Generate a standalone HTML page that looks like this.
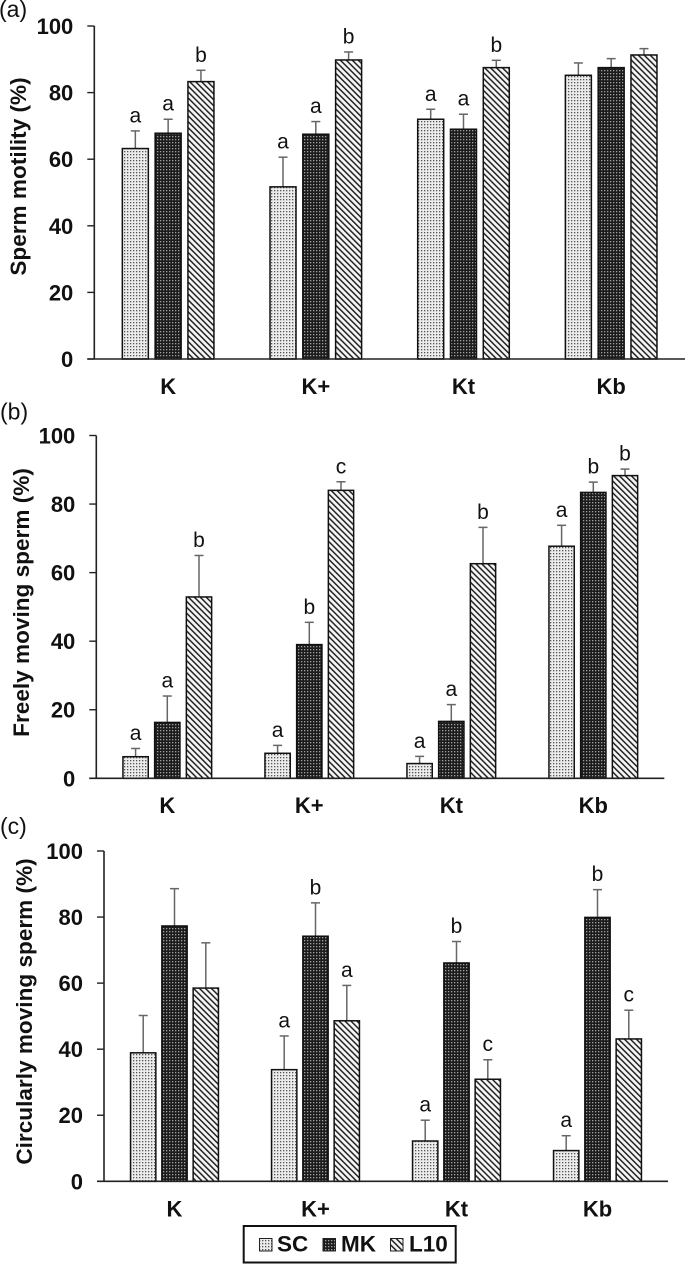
<!DOCTYPE html>
<html lang="en">
<head>
<meta charset="utf-8">
<title>Sperm motility charts</title>
<style>
html,body{margin:0;padding:0;background:#fff;}
svg{display:block;font-family:"Liberation Sans",Arial,sans-serif;}
.tick{font-size:22px;font-weight:bold;fill:#111;text-anchor:end;}
.cat{font-size:22px;font-weight:bold;fill:#111;text-anchor:middle;}
.title{font-size:22.6px;font-weight:bold;fill:#111;text-anchor:middle;}
.sig{font-size:21px;fill:#111;text-anchor:middle;}
.panel{font-size:23px;fill:#111;}
.leg{font-size:22.5px;font-weight:bold;fill:#111;}
</style>
</head>
<body>
<svg id="chart" xmlns="http://www.w3.org/2000/svg" width="685" height="1264" viewBox="0 0 685 1264">
  <defs>
    <pattern id="pat-SC" patternUnits="userSpaceOnUse" width="3" height="3">
      <rect width="3" height="3" fill="#ececec"/>
      <rect x="1" y="1" width="1.3" height="1.3" fill="#555"/>
    </pattern>
    <pattern id="pat-MK" patternUnits="userSpaceOnUse" width="3" height="3">
      <rect width="3" height="3" fill="#1c1c1c"/>
      <rect x="1" y="1" width="1.3" height="1.3" fill="#a0a0a0"/>
    </pattern>
    <pattern id="pat-L10" patternUnits="userSpaceOnUse" width="4.2" height="4.2" patternTransform="rotate(-45)">
      <rect width="4.2" height="4.2" fill="#f6f6f6"/>
      <rect x="0" y="0" width="1.5" height="4.2" fill="#222"/>
    </pattern>
  </defs>

  <text class="panel" x="-1" y="17">(a)</text>
  <text class="panel" x="0" y="419.5">(b)</text>
  <text class="panel" x="0" y="834">(c)</text>

  <text class="title" transform="translate(26,176.5) rotate(-90)">Sperm motility (%)</text>
  <text class="title" transform="translate(29,602.5) rotate(-90)">Freely moving sperm (%)</text>
  <text class="title" transform="translate(32,1011.5) rotate(-90)">Circularly moving sperm (%)</text>

  <g id="panels"></g>

  <g>
    <rect x="243.7" y="1226" width="212" height="36.5" fill="#fff" stroke="#111" stroke-width="2"/>
    <rect x="259.5" y="1238.5" width="12.5" height="12.5" fill="url(#pat-SC)" stroke="#222" stroke-width="1"/>
    <text class="leg" x="277" y="1251.5">SC</text>
    <rect x="323" y="1238.5" width="12.5" height="12.5" fill="url(#pat-MK)" stroke="#222" stroke-width="1"/>
    <text class="leg" x="341" y="1251.5">MK</text>
    <rect x="390.5" y="1238.5" width="12.5" height="12.5" fill="url(#pat-L10)" stroke="#222" stroke-width="1"/>
    <text class="leg" x="409" y="1251.5">L10</text>
  </g>
</svg>

<script>
const categories = ['K', 'K+', 'Kt', 'Kb'];
const tickLabels = [0, 20, 40, 60, 80, 100];
const seriesNames = ['SC', 'MK', 'L10'];

const motilitySC = [63.2, 51.7, 72.0, 85.2];
const motilityMK = [67.8, 67.5, 69.0, 87.5];
const motilityL10 = [83.3, 89.8, 87.5, 91.3];
const motilityErrSC = [5.3, 8.9, 3.0, 3.7];
const motilityErrMK = [4.2, 3.8, 4.5, 2.7];
const motilityErrL10 = [3.4, 2.4, 2.2, 1.9];
const motilityLettersSC = ['a', 'a', 'a', ''];
const motilityLettersMK = ['a', 'a', 'a', ''];
const motilityLettersL10 = ['b', 'b', 'b', ''];

const freelySC = [6.3, 7.3, 4.3, 67.7];
const freelyMK = [16.3, 39.0, 16.6, 83.4];
const freelyL10 = [52.9, 84.0, 62.6, 88.3];
const freelyErrSC = [2.4, 2.3, 2.1, 6.1];
const freelyErrMK = [7.7, 6.5, 4.9, 3.0];
const freelyErrL10 = [12.1, 2.5, 10.6, 1.9];
const freelyLettersSC = ['a', 'a', 'a', 'a'];
const freelyLettersMK = ['a', 'b', 'a', 'b'];
const freelyLettersL10 = ['b', 'c', 'b', 'b'];

const circularSC = [38.9, 33.8, 12.2, 9.3];
const circularMK = [77.3, 74.2, 66.1, 79.9];
const circularL10 = [58.5, 48.6, 30.9, 43.1];
const circularErrSC = [11.3, 10.2, 6.3, 4.5];
const circularErrMK = [11.3, 10.1, 6.5, 8.4];
const circularErrL10 = [13.7, 10.7, 5.9, 8.7];
const circularLettersSC = ['', 'a', 'a', 'a'];
const circularLettersMK = ['', 'b', 'b', 'b'];
const circularLettersL10 = ['', 'a', 'c', 'c'];

const NS = 'http://www.w3.org/2000/svg';
const root = document.getElementById('panels');

function make(parent, tag, attrs, text) {
  const el = document.createElementNS(NS, tag);
  for (const k in attrs) el.setAttribute(k, attrs[k]);
  if (text !== undefined) el.textContent = text;
  parent.appendChild(el);
  return el;
}

function drawPanel(name, frame, values, errors, letters) {
  const g = make(root, 'g', {});
  
  

  const band = (frame.right - frame.left) / categories.length;
  const yScale = function (v) { return frame.y0 - v * (frame.y0 - frame.y100) / 100; };
  const xCenter = function (c) { return frame.left + band * (c + 0.5); };
  const xBar = function (c, s) { return xCenter(c) + (s - 1) * frame.pitch; };

  tickLabels.forEach(function (t) {
    const tick = make(g, 'line', { x1: frame.left - 7, x2: frame.left, y1: yScale(t), y2: yScale(t), stroke: '#222', 'stroke-width': 1.4 });
    
    
    const label = make(g, 'text', { class: 'tick', x: frame.left - 21, y: yScale(t) + 8 }, String(t));
    
    
  });

  categories.forEach(function (cat, c) {
    seriesNames.forEach(function (series, s) {
      const v = values[s][c];
      const top = yScale(v);
      const cx = xBar(c, s);
      const errTop = yScale(v + errors[s][c]);

      const stem = make(g, 'line', { x1: cx, x2: cx, y1: top, y2: errTop, stroke: '#666', 'stroke-width': 1.5 });
      
      
      const cap = make(g, 'line', { x1: cx - 4.5, x2: cx + 4.5, y1: errTop, y2: errTop, stroke: '#666', 'stroke-width': 1.5 });
      
      

      const bar = make(g, 'rect', {
        x: cx - frame.barW / 2, y: top, width: frame.barW, height: frame.y0 - top,
        fill: 'url(#pat-' + series + ')', stroke: '#111', 'stroke-width': 1.5
      });
      
      

      const letter = letters[s][c];
      if (letter) {
        const sig = make(g, 'text', { class: 'sig', x: cx, y: errTop - 8.5 }, letter);
        
        
      }
    });
    const catLabel = make(g, 'text', { class: 'cat', x: xCenter(c), y: frame.catY }, cat);
    
    
  });

  const yAxis = make(g, 'line', { x1: frame.left, x2: frame.left, y1: frame.y100, y2: frame.y0, stroke: '#222', 'stroke-width': 1.6 });
  
  
  const xAxis = make(g, 'line', { x1: frame.left - 7, x2: frame.right, y1: frame.y0, y2: frame.y0, stroke: '#222', 'stroke-width': 1.6 });
  
  
}

drawPanel('motility',
  { left: 94.3, right: 685, y100: 26, y0: 359, pitch: 32.8, barW: 26, catY: 394 },
  [motilitySC, motilityMK, motilityL10],
  [motilityErrSC, motilityErrMK, motilityErrL10],
  [motilityLettersSC, motilityLettersMK, motilityLettersL10]);

drawPanel('freely-moving',
  { left: 96.3, right: 664.3, y100: 435.5, y0: 778.3, pitch: 31.7, barW: 25.3, catY: 813 },
  [freelySC, freelyMK, freelyL10],
  [freelyErrSC, freelyErrMK, freelyErrL10],
  [freelyLettersSC, freelyLettersMK, freelyLettersL10]);

drawPanel('circularly-moving',
  { left: 104, right: 668, y100: 851, y0: 1181.3, pitch: 31.3, barW: 25.3, catY: 1216.5 },
  [circularSC, circularMK, circularL10],
  [circularErrSC, circularErrMK, circularErrL10],
  [circularLettersSC, circularLettersMK, circularLettersL10]);
</script>
</body>
</html>
